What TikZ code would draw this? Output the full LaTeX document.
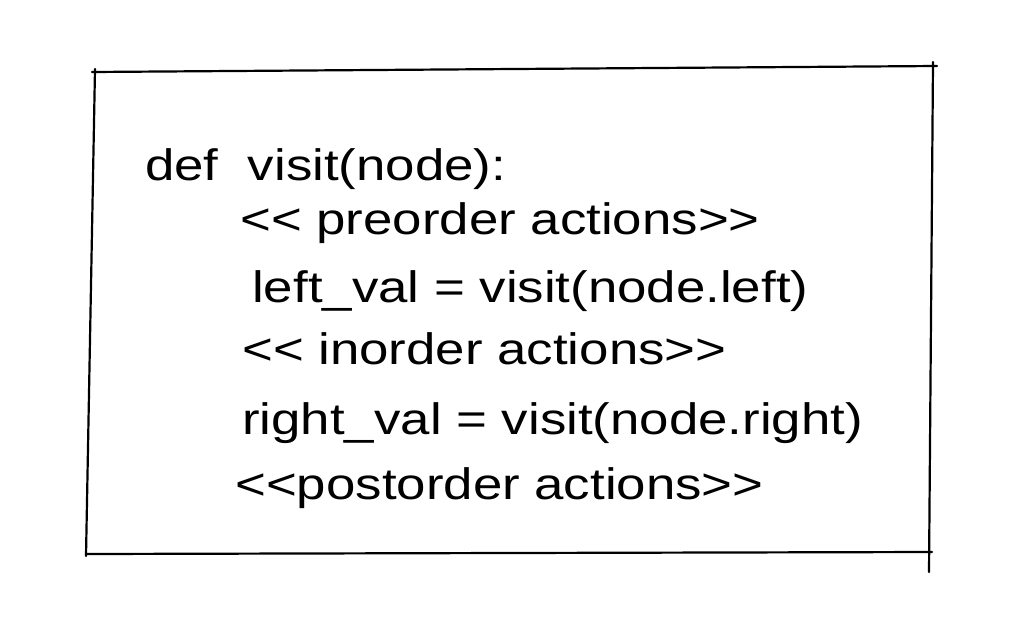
\documentclass[tikz,border=0pt]{standalone}
\usepackage{fontspec}
\setmainfont{Liberation Sans}
\begin{document}
\begin{tikzpicture}[x=1pt,y=-1pt,
  edge/.style={line width=2.2pt,line cap=round},
  code/.style={anchor=base west,font=\fontsize{44}{48}\selectfont,inner sep=0pt,xscale=1.2}]
\useasboundingbox (0,0) rectangle (1024,632);
\draw[edge] (92,72) -- (937,66);
\draw[edge] (933,62) -- (929,572);
\draw[edge] (86,554) -- (932,552);
\draw[edge] (95,69) -- (86,556);
\node[code] (l1) at (145,180) {def\ \ visit(node):};
\node[code] (l2) at (240,234) {{<}{<} preorder actions{>}{>}};
\node[code] (l3) at (252,302) {left\_val = visit(node.left)};
\node[code] (l4) at (242,364) {{<}{<} inorder actions{>}{>}};
\node[code] (l5) at (242,434) {right\_val = visit(node.right)};
\node[code] (l6) at (235,499) {{<}{<}postorder actions{>}{>}};
\end{tikzpicture}
\end{document}
